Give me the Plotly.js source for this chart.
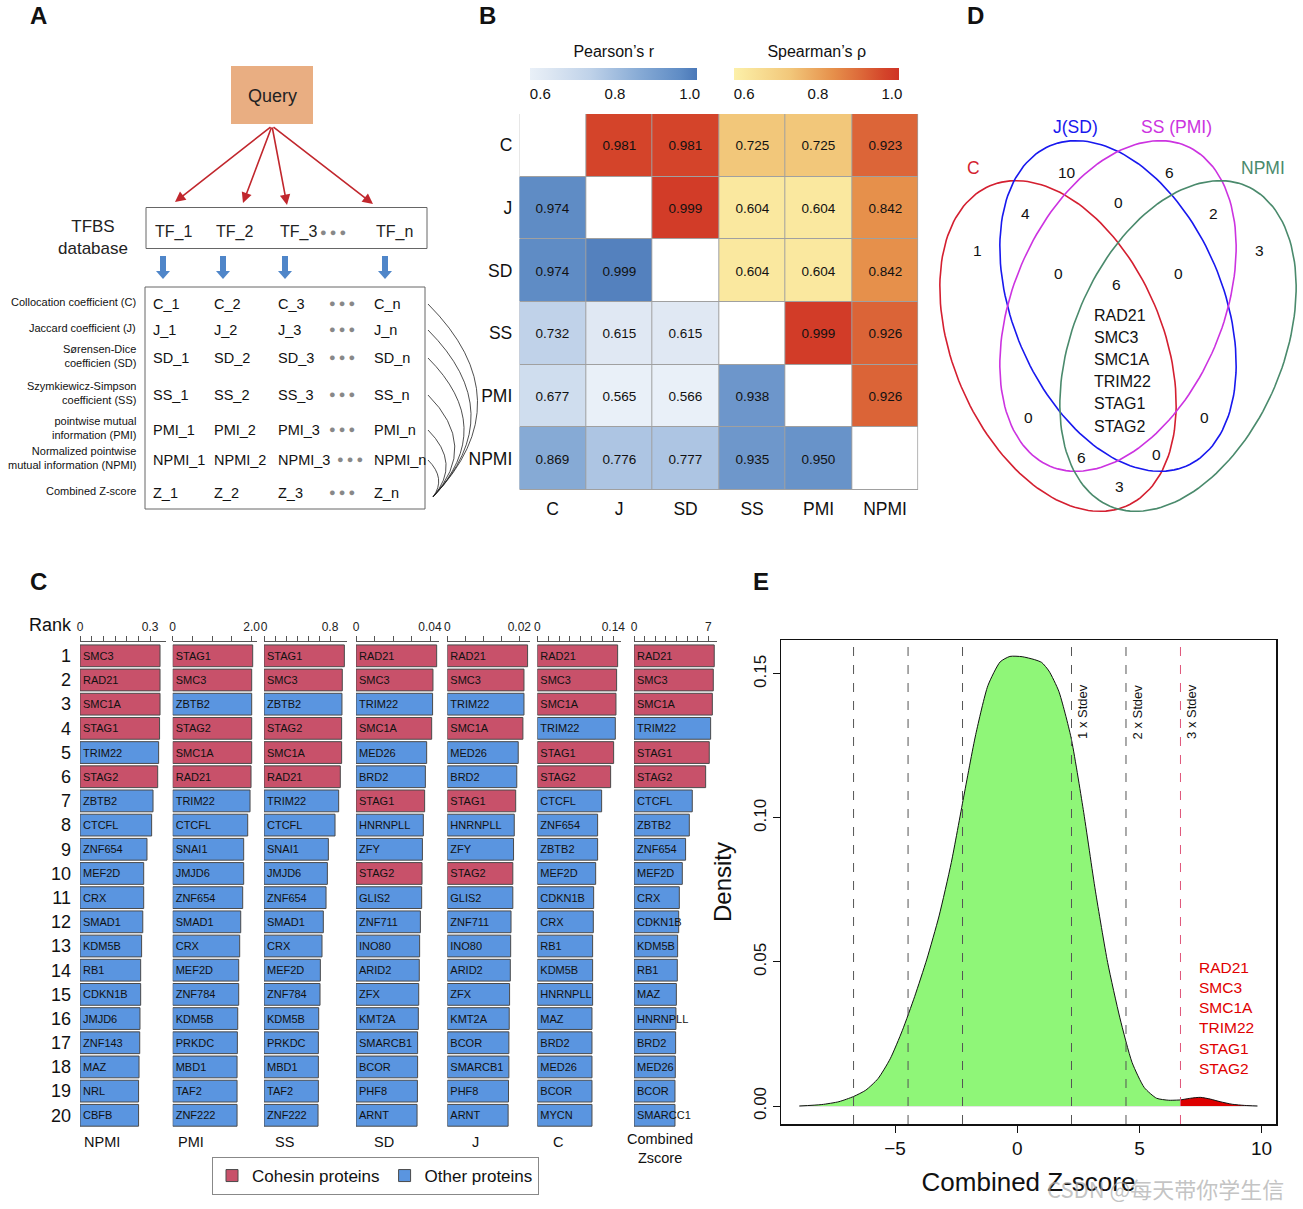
<!DOCTYPE html>
<html><head><meta charset="utf-8">
<script src="https://cdn.plot.ly/plotly-3.0.1.min.js"></script>
<style>html,body{margin:0;padding:0;background:#fff}#chart{width:1303px;height:1209px}</style>
</head><body><div id="chart"></div>
<script>
// ================= DATA =================
// Panel B: correlation matrix between metrics
const metrics = ['C','J','SD','SS','PMI','NPMI'];
const pearsonLower = [
  [null, null, null, null, null, null],
  [0.974, null, null, null, null, null],
  [0.974, 0.999, null, null, null, null],
  [0.732, 0.615, 0.615, null, null, null],
  [0.677, 0.565, 0.566, 0.938, null, null],
  [0.869, 0.776, 0.777, 0.935, 0.950, null]];
const spearmanUpper = [
  [null, 0.981, 0.981, 0.725, 0.725, 0.923],
  [null, null, 0.999, 0.604, 0.604, 0.842],
  [null, null, null, 0.604, 0.604, 0.842],
  [null, null, null, null, 0.999, 0.926],
  [null, null, null, null, null, 0.926],
  [null, null, null, null, null, null]];

// Panel C: top-20 ranked TFs per metric
const ranks = [1,2,3,4,5,6,7,8,9,10,11,12,13,14,15,16,17,18,19,20];
const cohesinProteins = ['SMC3','RAD21','SMC1A','STAG1','STAG2'];
const npmiGenes = ['SMC3','RAD21','SMC1A','STAG1','TRIM22','STAG2','ZBTB2','CTCFL','ZNF654','MEF2D','CRX','SMAD1','KDM5B','RB1','CDKN1B','JMJD6','ZNF143','MAZ','NRL','CBFB'];
const npmiScores = [0.343,0.343,0.343,0.341,0.337,0.333,0.313,0.307,0.287,0.273,0.273,0.269,0.264,0.260,0.260,0.257,0.256,0.253,0.251,0.251];
const pmiGenes = ['STAG1','SMC3','ZBTB2','STAG2','SMC1A','RAD21','TRIM22','CTCFL','SNAI1','JMJD6','ZNF654','SMAD1','CRX','MEF2D','ZNF784','KDM5B','PRKDC','MBD1','TAF2','ZNF222'];
const pmiScores = [2.025,2.0,2.0,2.0,2.0,1.983,1.958,1.899,1.797,1.797,1.772,1.722,1.696,1.671,1.671,1.646,1.637,1.629,1.629,1.629];
const ssGenes = ['STAG1','SMC3','ZBTB2','STAG2','SMC1A','RAD21','TRIM22','CTCFL','SNAI1','JMJD6','ZNF654','SMAD1','CRX','MEF2D','ZNF784','KDM5B','PRKDC','MBD1','TAF2','ZNF222'];
const ssScores = [0.974,0.949,0.945,0.941,0.941,0.925,0.905,0.861,0.780,0.768,0.752,0.719,0.703,0.683,0.679,0.663,0.659,0.659,0.659,0.655];
const sdGenes = ['RAD21','SMC3','TRIM22','SMC1A','MED26','BRD2','STAG1','HNRNPLL','ZFY','STAG2','GLIS2','ZNF711','INO80','ARID2','ZFX','KMT2A','SMARCB1','BCOR','PHF8','ARNT'];
const sdScores = [0.0436,0.0416,0.0414,0.0409,0.0382,0.0375,0.0371,0.0364,0.0359,0.0357,0.0355,0.0348,0.0344,0.0342,0.0339,0.0337,0.0333,0.0333,0.0332,0.0330];
const jGenes = ['RAD21','SMC3','TRIM22','SMC1A','MED26','BRD2','STAG1','HNRNPLL','ZFY','STAG2','GLIS2','ZNF711','INO80','ARID2','ZFX','KMT2A','BCOR','SMARCB1','PHF8','ARNT'];
const jScores = [0.0223,0.0213,0.0213,0.0210,0.0197,0.0193,0.0190,0.0186,0.0184,0.0182,0.0182,0.0177,0.0176,0.0175,0.0173,0.0172,0.0171,0.0171,0.0170,0.0169];
const cGenes = ['RAD21','SMC3','SMC1A','TRIM22','STAG1','STAG2','CTCFL','ZNF654','ZBTB2','MEF2D','CDKN1B','CRX','RB1','KDM5B','HNRNPLL','MAZ','BRD2','MED26','BCOR','MYCN'];
const cScores = [0.148,0.1461,0.1449,0.1437,0.1406,0.1351,0.1185,0.1111,0.1111,0.1075,0.1038,0.1032,0.1019,0.1019,0.1019,0.1007,0.1007,0.1007,0.1007,0.1007];
const zGenes = ['RAD21','SMC3','SMC1A','TRIM22','STAG1','STAG2','CTCFL','ZBTB2','ZNF654','MEF2D','CRX','CDKN1B','KDM5B','RB1','MAZ','HNRNPLL','BRD2','MED26','BCOR','SMARCC1'];
const zScores = [7.56,7.47,7.38,7.22,7.09,6.75,5.49,5.21,4.86,4.55,4.27,4.21,4.11,4.08,3.99,3.95,3.92,3.89,3.86,3.86];
const barPanelNames = ['NPMI','PMI','SS','SD','J','C','Combined<br>Zscore'];
const barAxisMax = [0.3, 2.0, 0.8, 0.04, 0.02, 0.14, 7];
const barAxisMaxText = ['0.3','2.0','0.8','0.04','0.02','0.14','7'];
const barTickCount = [6, 4, 6, 4, 4, 7, 7];

// Panel D: Venn diagram
const vennSets = ['C','J(SD)','SS (PMI)','NPMI'];
const vennCounts = [1,10,4,0,6,2,3,0,6,0,0,0,6,0,3];
const vennCoreGenes = ['RAD21','SMC3','SMC1A','TRIM22','STAG1','STAG2'];

// Panel E: density of combined Z-score
const densX = [-8.92,-8.0,-7.3,-6.7,-6.2,-5.7,-5.2,-4.7,-4.2,-3.7,-3.2,-2.7,-2.2,-1.7,-1.2,-0.7,-0.3,0.2,0.7,1.0,1.3,1.7,2.2,2.7,3.2,3.7,4.2,4.7,5.2,5.7,6.2,6.68,7.1,7.5,7.9,8.3,8.8,9.3,9.83];
const densY = [0,0.0005,0.0015,0.0033,0.0055,0.0095,0.0164,0.0263,0.038,0.051,0.066,0.0845,0.107,0.129,0.146,0.1542,0.1561,0.156,0.155,0.154,0.151,0.144,0.128,0.103,0.0746,0.0498,0.0306,0.0151,0.0064,0.0027,0.002,0.0021,0.0027,0.003,0.0024,0.0015,0.0006,0.0002,0];
const zMean = -0.01;
const zSd = 2.23;
const stdevMultiples = [-3,-2,-1,1,2,3];
const outlierGenes = ['RAD21','SMC3','SMC1A','TRIM22','STAG1','STAG2'];

// Panel A: workflow diagram labels
const tfCols = ['1','2','3','n'];
const metricRows = ['C','J','SD','SS','PMI','NPMI','Z'];
const metricDesc = ['Collocation coefficient (C)','Jaccard coefficient (J)','Sørensen-Dice<br>coefficien (SD)','Szymkiewicz-Simpson<br>coefficient (SS)','pointwise mutual<br>information (PMI)','Normalized pointwise<br>mutual information (NPMI)','Combined Z-score'];

// ================= STYLE / GEOMETRY =================
const W = 1303, H = 1209;
const P = x => x / W;
const Q = y => 1 - y / H;
const SANS = 'Liberation Sans, Arial, Helvetica, sans-serif';
const RED = '#c8516a', BLUE = '#5a95e0';

const traces = [];
const shapes = [];
const annotations = [];
const layout = {
  width: W, height: H, margin: {l:0, r:0, t:0, b:0},
  paper_bgcolor: '#ffffff', plot_bgcolor: 'rgba(0,0,0,0)',
  font: {family: SANS, color: '#111'},
  showlegend: true,
  legend: {orientation: 'h', x: P(212), y: Q(1157), xanchor: 'left', yanchor: 'top',
    bordercolor: '#888', borderwidth: 1, font: {family: SANS, size: 17, color: '#111'},
    itemwidth: 30, tracegroupgap: 0, bgcolor: '#fff'}
};

// Pixel overlay axis (for diagram & Venn)
layout.xaxis10 = {domain: [0,1], range: [0, W], visible: false, fixedrange: true, anchor: 'y10'};
layout.yaxis10 = {domain: [0,1], range: [H, 0], visible: false, fixedrange: true, anchor: 'x10'};
const pxText = (x, y, text, opt) => Object.assign({xref: 'x10', yref: 'y10', x, y, text, showarrow: false,
  font: {family: SANS, size: 14, color: '#111'}}, opt || {});

// Panel letters
[['A',38,15],['B',487,15],['D',975,15],['C',38,581],['E',761,581]].forEach(([t,x,y]) =>
  annotations.push(pxText(x, y, '<b>' + t + '</b>', {font: {family: SANS, size: 24, color: '#111'}})));

// ================= PANEL A =================
shapes.push({type:'rect', xref:'x10', yref:'y10', x0:231, y0:66, x1:313, y1:124, fillcolor:'#e9ae82', line:{width:0}});
annotations.push(pxText(272, 96, 'Query', {font:{family:SANS, size:18, color:'#222'}}));
const tfArrowHeads = [[175,202],[243,203],[287,205],[373,204]];
tfArrowHeads.forEach(([x,y]) => annotations.push({xref:'x10', yref:'y10', axref:'x10', ayref:'y10',
  x, y, ax:272, ay:126, text:'', showarrow:true, arrowhead:2, arrowsize:1.3, arrowwidth:1.6, arrowcolor:'#c1272d', standoff:0}));
shapes.push({type:'rect', xref:'x10', yref:'y10', x0:146, y0:207.5, x1:427, y1:248.5, line:{color:'#666', width:1}});
annotations.push(pxText(93, 237, 'TFBS<br>database', {font:{family:SANS, size:17, color:'#222'}}));
const colX = [150.5, 212, 275.5, 371.5];
const tfRowY = 232;
tfCols.forEach((c,i) => annotations.push(pxText(colX[i] + 2, tfRowY, 'TF_' + c, {xanchor:'left', font:{family:SANS, size:16, color:'#222'}})));
annotations.push(pxText(333, tfRowY, '● ● ●', {font:{family:SANS, size:11, color:'#888'}}));
// blue block arrows
[163, 223, 285, 385].forEach(cx => {
  const y0 = 256, y1 = 279, yh = 271;
  shapes.push({type:'path', xref:'x10', yref:'y10', fillcolor:'#4f86c9', line:{width:0},
    path:`M${cx-3},${y0} L${cx+3},${y0} L${cx+3},${yh} L${cx+7},${yh} L${cx},${y1} L${cx-7},${yh} L${cx-3},${yh} Z`});
});
shapes.push({type:'rect', xref:'x10', yref:'y10', x0:145, y0:287, x1:425, y1:509, line:{color:'#666', width:1}});
const rowY = [304, 330, 358, 395, 430, 460, 493];
metricRows.forEach((m, r) => {
  tfCols.forEach((c, i) => annotations.push(pxText(colX[i], rowY[r], m + '_' + c,
    {xanchor:'left', font:{family:SANS, size:14.5, color:'#111'}})));
  annotations.push(pxText(r === 5 ? 350 : 342, rowY[r] - 1, '● ● ●', {font:{family:SANS, size:11, color:'#888'}}));
  annotations.push(pxText(138, rowY[r] - 2, metricDesc[r],
    {xanchor:'right', align:'right', font:{family:SANS, size:11, color:'#111'}}));
  if (r < 6) {
    const y = rowY[r], k = 0.5 * (497 - y);
    shapes.push({type:'path', xref:'x10', yref:'y10', line:{color:'#222', width:0.8},
      path:`M428,${y} Q${428 + k},${(y + 497) / 2} 433,497`});
  }
});

// ================= PANEL B =================
const idx = [0,1,2,3,4,5];
const diag = idx.map(i => idx.map(j => i === j ? 1 : null));
const hmCommon = {type:'heatmap', x: idx, y: idx, xaxis:'x', yaxis:'y', xgap:1, ygap:1,
  zmin:0.573, zmax:1.02, hoverinfo:'skip', texttemplate:'%{z:.3f}',
  textfont:{family:SANS, size:13.5, color:'#111'}};
const cbCommon = {orientation:'h', xanchor:'center', y:Q(96.5), yanchor:'bottom', lenmode:'pixels',
  thickness:12, outlinewidth:0, xpad:0, ypad:0, ticks:'', tickvals:[0.6,0.8,1.0], ticktext:['0.6','0.8','1.0'],
  tickfont:{family:SANS, size:15, color:'#111'}};
traces.push(Object.assign({}, hmCommon, {z: pearsonLower, showlegend:false,
  colorscale:[[0,'#e9f0f8'],[0.1,'#dfe8f3'],[0.36,'#bfd2e9'],[0.66,'#86aad5'],[0.9,'#5f8cc5'],[1,'#4a78b8']],
  colorbar:Object.assign({}, cbCommon, {x:P(613.7), len:167,
    title:{text:'Pearson’s r', side:'top', font:{family:SANS, size:16, color:'#111'}}})}));
traces.push(Object.assign({}, hmCommon, {z: spearmanUpper, showlegend:false,
  colorscale:[[0,'#fcf0aa'],[0.069,'#fae89f'],[0.34,'#f2c77a'],[0.6,'#e6904b'],[0.78,'#dc6638'],[0.91,'#d4452a'],[1,'#cf3326']],
  colorbar:Object.assign({}, cbCommon, {x:P(816.7), len:165,
    title:{text:'Spearman’s ρ', side:'top', font:{family:SANS, size:16, color:'#111'}}})}));
traces.push(Object.assign({}, hmCommon, {z: diag, showscale:false, showlegend:false, texttemplate:'',
  colorscale:[[0,'#ffffff'],[1,'#ffffff']]}));
shapes.push({type:'rect', xref:'x', yref:'y', x0:-0.5, x1:5.5, y0:-0.5, y1:5.5, layer:'below',
  fillcolor:'#a0a0a0', line:{width:0}});
layout.xaxis = {domain:[P(519.3), P(918.3)], range:[-0.5,5.5], anchor:'y', tickvals:idx, ticktext:metrics,
  ticks:'', showgrid:false, zeroline:false, showline:false, fixedrange:true,
  tickfont:{family:SANS, size:17.5, color:'#111'}, ticklabelstandoff:6};
layout.yaxis = {domain:[Q(490), Q(114)], range:[5.5,-0.5], anchor:'x', tickvals:idx, ticktext:metrics,
  ticks:'', showgrid:false, zeroline:false, showline:false, fixedrange:true,
  tickfont:{family:SANS, size:17.5, color:'#111'}, ticklabelstandoff:6};

// ================= PANEL C =================
const barData = [
  [npmiGenes, npmiScores], [pmiGenes, pmiScores], [ssGenes, ssScores], [sdGenes, sdScores],
  [jGenes, jScores], [cGenes, cScores], [zGenes, zScores]];
// pixel geometry per panel: zero position, position of max tick, right edge of panel
const barGeom = [[80,150,166],[172.7,251.7,257],[264,330,347],[356,430,439],[447.3,519.3,530],[537.3,613.3,621],[634,708.3,717]];
const barLabelX = [102, 191, 284, 384, 475, 558, 660];
barData.forEach(([genes, vals], i) => {
  const n = i + 2, xa = 'x' + n;
  const [z0, zm, zr] = barGeom[i];
  const step = barAxisMax[i] / barTickCount[i];
  const tv = [], tt = [];
  for (let k = 0; k <= barTickCount[i]; k++) {
    tv.push(step * k);
    tt.push(k === 0 ? '0' : (k === barTickCount[i] ? barAxisMaxText[i] : ''));
  }
  layout['xaxis' + n] = {domain:[P(z0), P(zr)], range:[0, barAxisMax[i] * (zr - z0) / (zm - z0)],
    anchor:'y2', side:'top', tickvals:tv, ticktext:tt, ticks:'outside', ticklen:5, tickcolor:'#555',
    showline:true, linecolor:'#555', linewidth:1, showgrid:false, zeroline:false, fixedrange:true,
    tickfont:{family:SANS, size:12, color:'#222'}};
  [[true, RED, 'Cohesin proteins'], [false, BLUE, 'Other proteins']].forEach(([coh, col, name]) => {
    const sel = genes.map((g, j) => cohesinProteins.includes(g) === coh ? j : -1).filter(j => j >= 0);
    traces.push({type:'bar', orientation:'h', xaxis:xa, yaxis:'y2', name, legendgroup:name,
      showlegend: i === 0, y: sel.map(j => ranks[j]), x: sel.map(j => vals[j]), text: sel.map(j => genes[j]),
      width:0.9, marker:{color:col, line:{color:'#4a4a4a', width:1}},
      textposition:'inside', insidetextanchor:'start', textangle:0, constraintext:'none',
      textfont:{family:SANS, size:11, color:'#111'}, hoverinfo:'skip', cliponaxis:false});
  });
  annotations.push(pxText(barLabelX[i], i === 6 ? 1148 : 1142, barPanelNames[i],
    {font:{family:SANS, size:14.5, color:'#111'}}));
});
layout.yaxis2 = {domain:[Q(1128), Q(642)], range:[20.525, 0.429], anchor:'x2', tickvals:ranks,
  ticks:'', showgrid:false, zeroline:false, showline:false, fixedrange:true, ticklabelstandoff:8,
  tickfont:{family:SANS, size:18, color:'#111'}};
annotations.push(pxText(50, 625, 'Rank', {font:{family:SANS, size:18, color:'#111'}}));

// ================= PANEL D (Venn) =================
const vennColors = ['#d41f30','#1818ee','#cc33e0','#4a8a6c'];
const vennCenters = [[1058,346],[1118,306],[1118,306],[1178,346]];
const vennAngles = [67, 67, 113, 113];
const vennA = 174, vennB = 105;
vennSets.forEach((s, i) => {
  const [cx, cy] = vennCenters[i], t = vennAngles[i] * Math.PI / 180;
  const xs = [], ys = [];
  for (let k = 0; k <= 160; k++) {
    const u = 2 * Math.PI * k / 160;
    xs.push(cx + vennA * Math.cos(u) * Math.cos(t) - vennB * Math.sin(u) * Math.sin(t));
    ys.push(cy + vennA * Math.cos(u) * Math.sin(t) + vennB * Math.sin(u) * Math.cos(t));
  }
  traces.push({type:'scatter', mode:'lines', xaxis:'x10', yaxis:'y10', x:xs, y:ys, showlegend:false,
    line:{color:vennColors[i], width:1.6}, hoverinfo:'skip'});
});
const vennLabelPos = [[973,168],[1075,127],[1176,127],[1263,168]];
vennSets.forEach((s, i) => annotations.push(pxText(vennLabelPos[i][0], vennLabelPos[i][1], s,
  {font:{family:SANS, size:17.5, color:vennColors[i]}})));
const vennCountPos = [[977,250],[1067,172],[1025,213],[1118,202],[1169,172],[1213,213],[1259,250],
  [1058,273],[1116,284],[1178,273],[1028,417],[1204,417],[1081,457],[1156,454],[1119,486]];
vennCounts.forEach((c, i) => annotations.push(pxText(vennCountPos[i][0], vennCountPos[i][1], String(c),
  {font:{family:SANS, size:15.5, color:'#111'}})));
vennCoreGenes.forEach((g, i) => annotations.push(pxText(1092, 315 + 22.2 * i, g,
  {xanchor:'left', font:{family:SANS, size:16, color:'#111'}})));

// ================= PANEL E (density) =================
const cut = zMean + 3 * zSd;
const gi = densX.map((x, j) => x <= cut + 1e-9 ? j : -1).filter(j => j >= 0);
const ri = densX.map((x, j) => x >= cut - 0.05 ? j : -1).filter(j => j >= 0);
traces.push({type:'scatter', mode:'lines', xaxis:'x9', yaxis:'y9', x: gi.map(j => densX[j]), y: gi.map(j => densY[j]),
  fill:'tozeroy', fillcolor:'#8ff678', line:{color:'#111', width:1, shape:'spline', smoothing:0.6},
  showlegend:false, hoverinfo:'skip'});
traces.push({type:'scatter', mode:'lines', xaxis:'x9', yaxis:'y9', x: ri.map(j => densX[j]), y: ri.map(j => densY[j]),
  fill:'tozeroy', fillcolor:'#dd0000', line:{color:'#111', width:1, shape:'spline', smoothing:0.6},
  showlegend:false, hoverinfo:'skip'});
shapes.push({type:'line', xref:'x9', yref:'y9', x0:densX[0], x1:densX[densX.length - 1], y0:0, y1:0,
  line:{color:'#cccccc', width:1}, layer:'below'});
stdevMultiples.forEach(k => {
  const xv = zMean + k * zSd;
  shapes.push({type:'line', xref:'x9', yref:'y9 domain', x0:xv, x1:xv, y0:0, y1:1,
    line:{color: k === 3 ? '#e0557a' : '#555', width:1, dash:'dash'}});
  if (k > 0) annotations.push({xref:'x9', yref:'y9', x: xv + 0.45, y: 0.137, text: k + ' x Stdev',
    textangle:-90, showarrow:false, font:{family:SANS, size:13, color:'#111'}});
});
annotations.push({xref:'x9', yref:'y9', x:7.35, y:0.0517, text: outlierGenes.join('<br>'), showarrow:false,
  xanchor:'left', yanchor:'top', align:'left', font:{family:SANS, size:15.5, color:'#e00000'}});
layout.xaxis9 = {domain:[P(781), P(1276)], range:[-9.67, 10.59], anchor:'y9', tickvals:[-5,0,5,10],
  ticks:'outside', ticklen:7, tickcolor:'#111', showline:true, mirror:true, linecolor:'#111', linewidth:1.5,
  showgrid:false, zeroline:false, fixedrange:true, tickfont:{family:SANS, size:19, color:'#111'},
  title:{text:'Combined Z-score', standoff:14, font:{family:SANS, size:26, color:'#111'}}};
layout.yaxis9 = {domain:[Q(1124), Q(640)], range:[-0.00625, 0.1618], anchor:'x9', tickvals:[0,0.05,0.1,0.15],
  tickformat:'.2f', tickangle:-90, ticks:'outside', ticklen:7, tickcolor:'#111', showline:true, mirror:true,
  linecolor:'#111', linewidth:1.5, showgrid:false, zeroline:false, fixedrange:true,
  tickfont:{family:SANS, size:17, color:'#111'},
  title:{text:'Density', standoff:12, font:{family:SANS, size:24, color:'#111'}}};

// watermark
annotations.push(pxText(1165, 1188, 'CSDN @每天带你学生信', {font:{family:'Noto Sans CJK SC, sans-serif', size:22, color:'rgba(170,170,170,0.7)'}}));

layout.shapes = shapes;
layout.annotations = annotations;
Plotly.newPlot('chart', traces, layout, {staticPlot:true, displayModeBar:false});
</script>
</body></html>
